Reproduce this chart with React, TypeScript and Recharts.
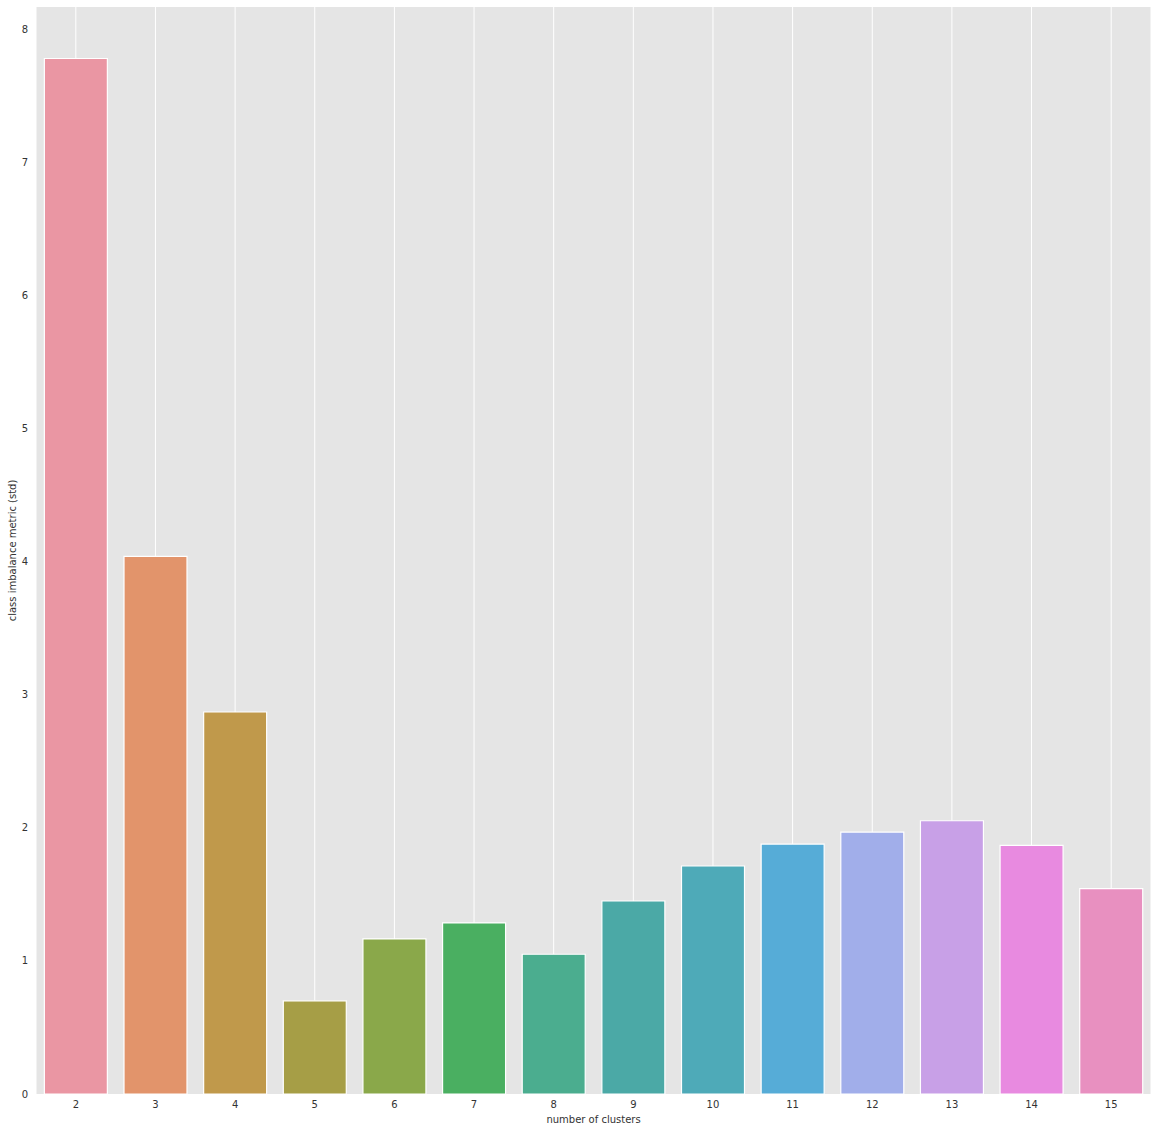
import { Bar, BarChart, CartesianGrid, Cell, Label, XAxis, YAxis } from "recharts";

const clusters = ["2", "3", "4", "5", "6", "7", "8", "9", "10", "11", "12", "13", "14", "15"];
const imbalance = [7.78, 4.04, 2.87, 0.7, 1.165, 1.285, 1.05, 1.45, 1.713, 1.878, 1.968, 2.053, 1.868, 1.543];
const barColors = [
  "#ea96a3",
  "#e2946b",
  "#c0994b",
  "#a69e46",
  "#8aa84a",
  "#4aaf61",
  "#4bad8f",
  "#4ba9a6",
  "#4eaab8",
  "#56acd7",
  "#a1aeea",
  "#c8a0e7",
  "#e88ae0",
  "#e890c0",
];
const yTicks = [0, 1, 2, 3, 4, 5, 6, 7, 8];

const data = clusters.map((c, i) => ({ clusters: c, value: imbalance[i] }));

const font = "DejaVu Sans, sans-serif";
const tickStyle = { fontSize: 10, fill: "#333", fontFamily: font };

const App = () => {
  return (
    <div style={{ position: "absolute", left: 0, top: 0, background: "#fff" }}>
      <BarChart
        width={1157}
        height={1132}
        data={data}
        margin={{ top: 7, right: 6, bottom: 0, left: 0 }}
        barCategoryGap="10.5%"
      >
        <CartesianGrid horizontal={false} stroke="#fff" strokeWidth={1} fill="#e5e5e5" />
        <XAxis
          dataKey="clusters"
          height={38}
          axisLine={false}
          tickLine={false}
          tickSize={5}
          tickMargin={2}
          tick={tickStyle}
          interval={0}
        >
          <Label
            content={({ viewBox }: any) => (
              <text
                x={viewBox.x + viewBox.width / 2}
                y={viewBox.y + viewBox.height - 9}
                textAnchor="middle"
                fontSize={10}
                fill="#333"
                fontFamily={font}
              >
                number of clusters
              </text>
            )}
          />
        </XAxis>
        <YAxis
          width={36}
          domain={[0, 8.167]}
          ticks={yTicks}
          axisLine={false}
          tickLine={false}
          tick={tickStyle}
          allowDataOverflow
        >
          <Label
            content={({ viewBox }: any) => {
              const cx = 12;
              const cy = viewBox.y + viewBox.height / 2;
              return (
                <text
                  x={cx}
                  y={cy}
                  transform={`rotate(-90, ${cx}, ${cy})`}
                  textAnchor="middle"
                  dominantBaseline="central"
                  fontSize={10}
                  fill="#333"
                  fontFamily={font}
                >
                  class imbalance metric (std)
                </text>
              );
            }}
          />
        </YAxis>
        <Bar dataKey="value" stroke="#fff" strokeWidth={1.2} isAnimationActive={false}>
          {data.map((d, i) => (
            <Cell key={d.clusters} fill={barColors[i]} />
          ))}
        </Bar>
      </BarChart>
    </div>
  );
};

export default App;
